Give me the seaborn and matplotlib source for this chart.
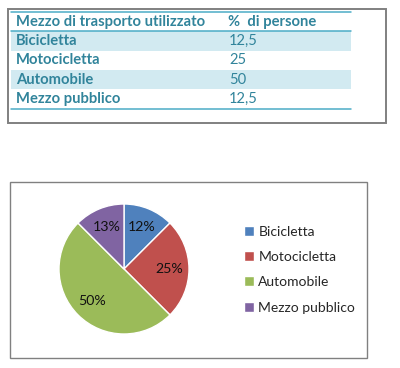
import numpy as np
import pandas as pd
import seaborn as sns
import matplotlib.pyplot as plt
from matplotlib.patches import Rectangle

mezzi = ['Bicicletta', 'Motocicletta', 'Automobile', 'Mezzo pubblico']
persone = [12.5, 25, 50, 12.5]
persone_txt = ['12,5', '25', '50', '12,5']
pct_labels = ['12%', '25%', '50%', '13%']
header = ['Mezzo di trasporto utilizzato', '%  di persone']

colors = sns.color_palette(['#4F81BD', '#C0504D', '#9BBB59', '#8064A2'])
teal = '#31849B'

sns.set_style('white')
plt.rcParams['font.family'] = ['Lato', 'DejaVu Sans']

W, H = 400, 368
fig = plt.figure(figsize=(4, 3.68), dpi=100)
bg = fig.add_axes([0, 0, 1, 1])
bg.set_xlim(0, W)
bg.set_ylim(H, 0)
bg.axis('off')

# table box
bg.add_patch(Rectangle((8, 8.5), 378, 114, fill=False, ec='#808080', lw=1.4))
row_h = 19.3
top = 12
for i in range(len(mezzi)):
    y0 = top + row_h * (i + 1)
    if i % 2 == 0:
        bg.add_patch(Rectangle((11, y0), 340, row_h, color='#D2EAF1', lw=0))
bg.plot([11, 351], [top, top], color='#4BACC6', lw=1.1)
bg.plot([11, 351], [top + row_h, top + row_h], color='#4BACC6', lw=1.1)
bg.plot([11, 351], [top + row_h * 5, top + row_h * 5], color='#4BACC6', lw=1.1)

fs = 10.6
bg.text(16, top + row_h / 2, header[0], color=teal, fontsize=fs, fontweight='bold', va='center')
bg.text(228, top + row_h / 2, header[1], color=teal, fontsize=fs, fontweight='bold', va='center')
for i, (m, v) in enumerate(zip(mezzi, persone_txt)):
    yc = top + row_h * (i + 1.5)
    bg.text(16, yc, m, color=teal, fontsize=fs, fontweight='bold', va='center')
    bg.text(229, yc, v, color=teal, fontsize=fs, va='center')

# chart box
bg.add_patch(Rectangle((10, 181.5), 357, 176, fill=False, ec='#808080', lw=1.0))

# pie
ax = fig.add_axes([59 / W, (H - 334) / H, 130 / W, 130 / H])
wedges, texts, autotexts = ax.pie(persone, colors=colors, startangle=90, counterclock=False,
                                  autopct='%1.0f%%', pctdistance=0.7,
                                  textprops={'fontsize': 10.2, 'color': '#111111'})
for t, lab in zip(autotexts, pct_labels):
    t.set_text(lab)
ax.set_xlim(-1, 1)
ax.set_ylim(-1, 1)

fig.legend(wedges, mezzi, loc='upper left', bbox_to_anchor=(232 / W, 1 - 213 / H),
           frameon=False, fontsize=10, handlelength=0.7, handleheight=0.72,
           handletextpad=0.3, labelspacing=0.96)

plt.savefig('out.png', dpi=100)
